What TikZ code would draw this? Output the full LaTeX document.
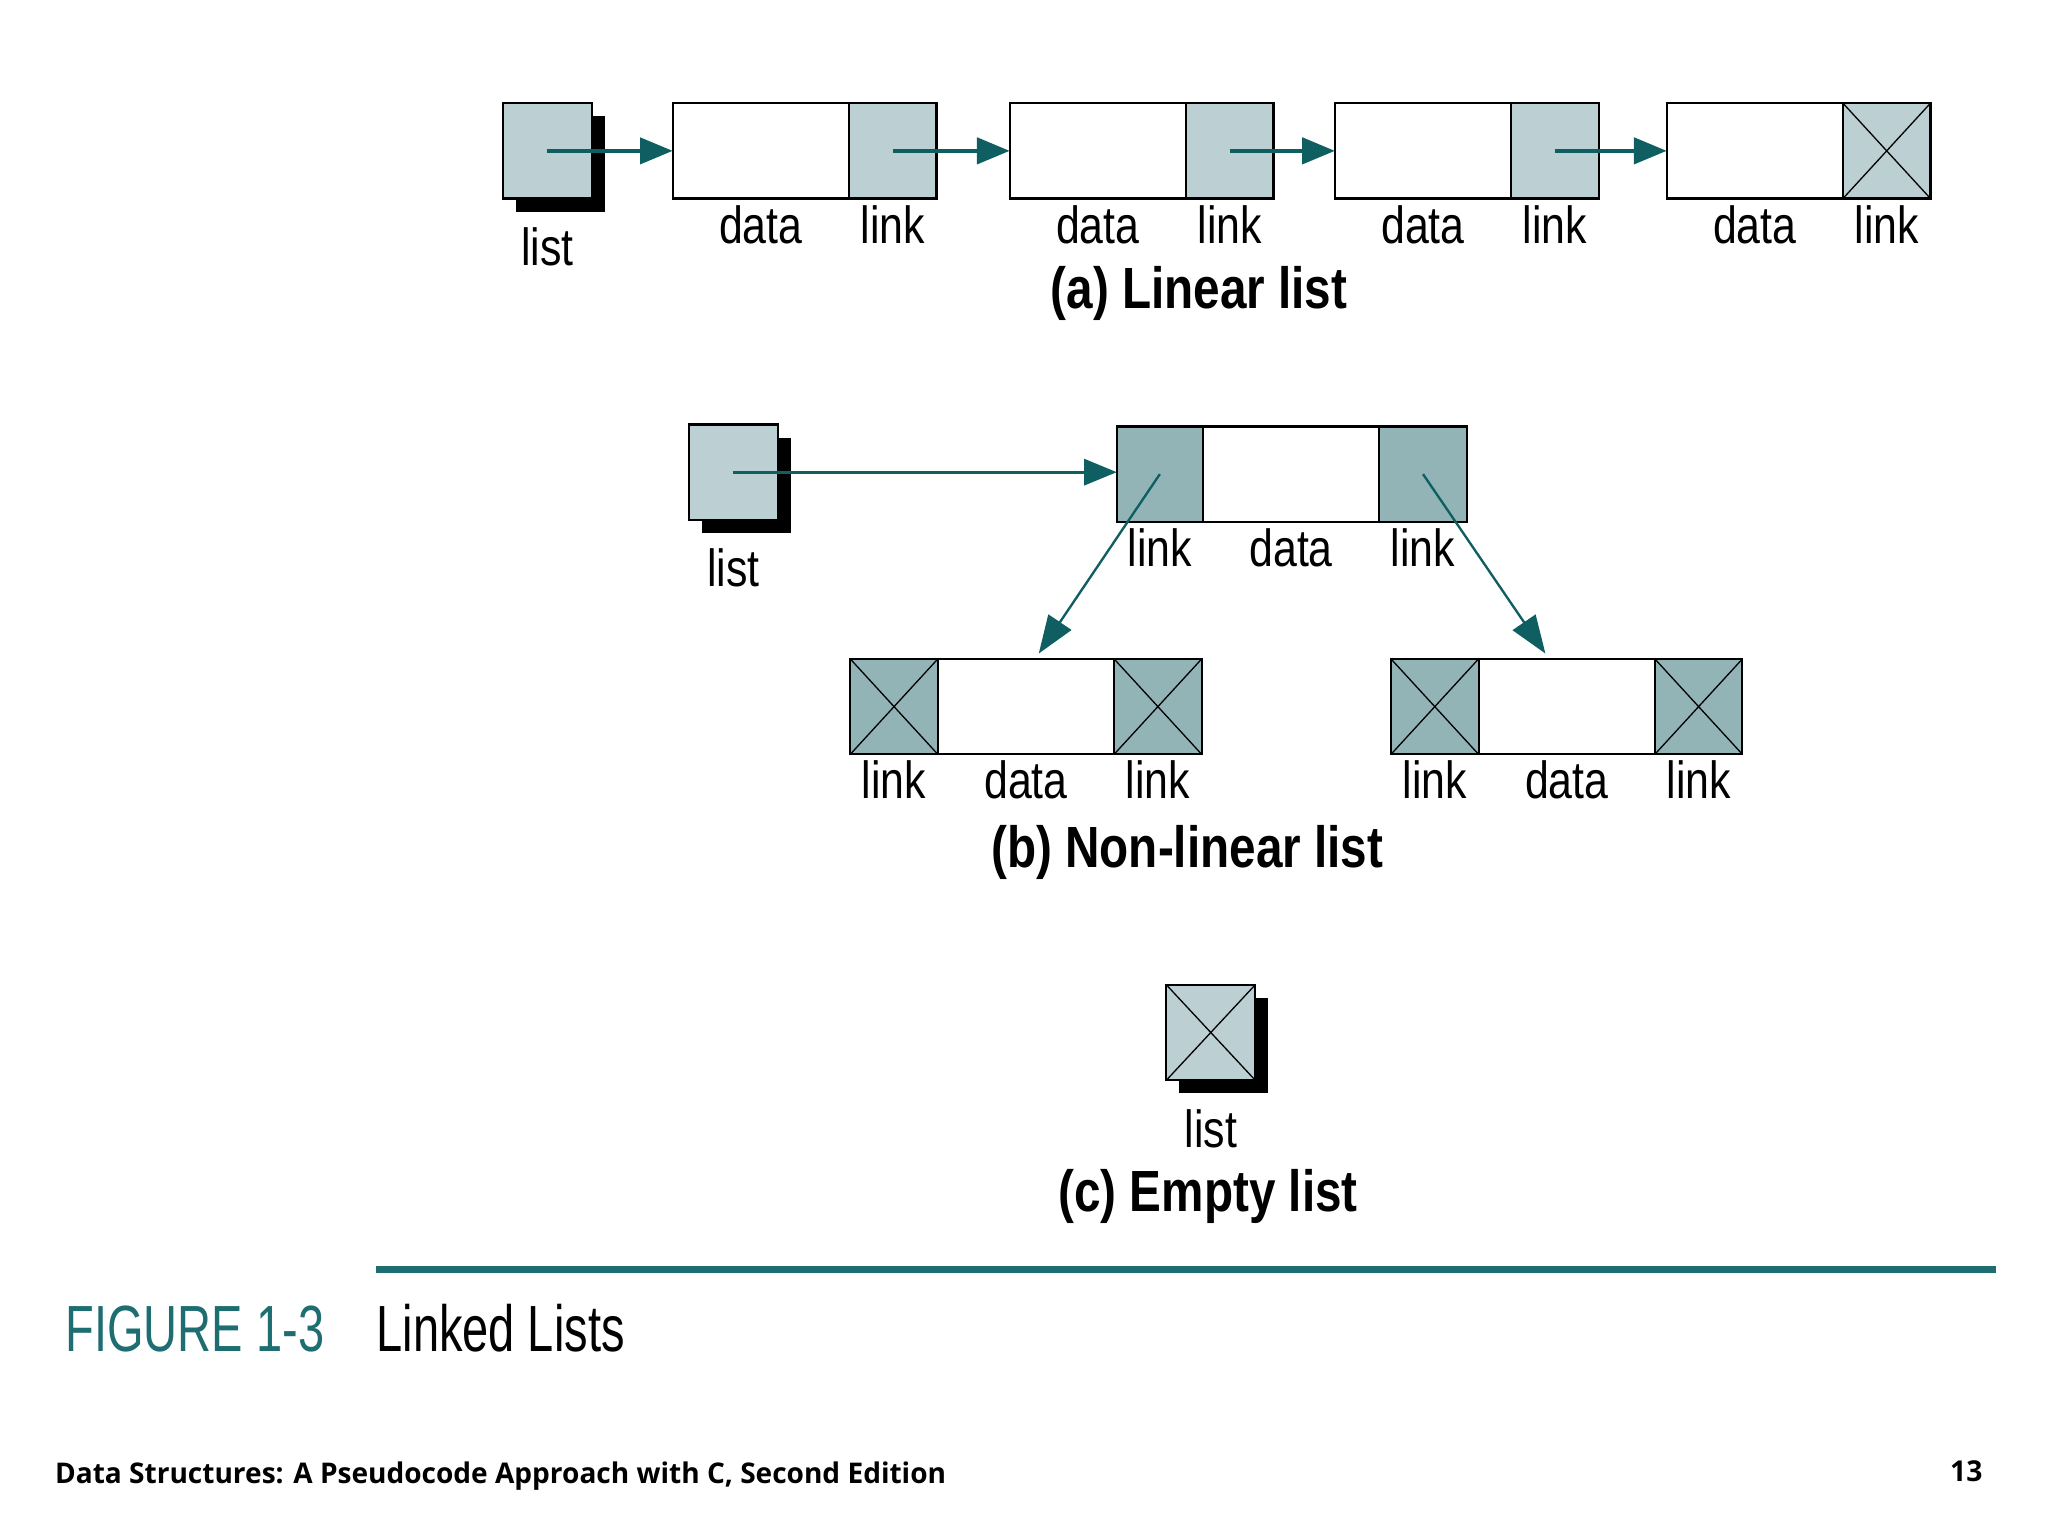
\documentclass[tikz,border=0pt]{standalone}
\usepackage{fontspec}
\usepackage{xcolor}
\usetikzlibrary{positioning, arrows.meta, shadows}

\newfontfamily\cellfont[FakeStretch=0.82]{Liberation Sans}
\newfontfamily\capfont[FakeStretch=0.72]{Liberation Sans}
\newfontfamily\slidefont[FakeStretch=0.985]{Open Sans}

\definecolor{linklight}{HTML}{BCCFD3}
\definecolor{linkdark}{HTML}{93B4B7}
\definecolor{ptrteal}{HTML}{0F5E62}
\definecolor{figteal}{HTML}{1E6E71}

\begin{document}
\begin{tikzpicture}[x=1pt, y=-1pt,
  cell/.style={rectangle, draw=black, line width=1.6pt, inner sep=0pt, outer sep=0pt, minimum height=73pt},
  datacell/.style={cell, fill=white, minimum width=135pt},
  linkcell/.style={cell, fill=linklight, minimum width=67pt},
  darklink/.style={linkcell, fill=linkdark},
  nullmark/.style={path picture={\draw[line width=1pt]
      (path picture bounding box.north west) -- (path picture bounding box.south east)
      (path picture bounding box.north east) -- (path picture bounding box.south west);}},
  headbox/.style={linkcell, minimum width=68pt,
      drop shadow={shadow xshift=10pt, shadow yshift=-10pt, fill=black, opacity=1}},
  fieldname/.style={inner sep=0pt, font=\cellfont\fontsize{40}{44}\selectfont},
  parttitle/.style={inner sep=0pt, font=\cellfont\bfseries\fontsize{44.5}{48}\selectfont},
  ptr/.style={-{Triangle[length=25pt, width=20pt]}, draw=ptrteal, line width=3pt},
  ptrthin/.style={-{Triangle[length=29pt, width=21pt]}, draw=ptrteal, line width=1.8pt, shorten >=5pt}
]
  \useasboundingbox (0,0) rectangle (1568,1176);

  % (a) linear list
  \node[headbox] (alist) at (419,115.5) {};
  \node[fieldname, below=22pt of alist] (alistname) {list};

  \node[datacell] (a1d) at (582.5,115.5) {};
  \node[linkcell, right=0pt of a1d] (a1l) {};
  \node[datacell] (a2d) at (840.5,115.5) {};
  \node[linkcell, right=0pt of a2d] (a2l) {};
  \node[datacell] (a3d) at (1089.5,115.5) {};
  \node[linkcell, right=0pt of a3d] (a3l) {};
  \node[datacell] (a4d) at (1343.5,115.5) {};
  \node[linkcell, nullmark, right=0pt of a4d] (a4l) {};

  \node[fieldname, below=5pt of a1d] (a1dname) {data};
  \node[fieldname, below=5pt of a1l] (a1lname) {link};
  \node[fieldname, below=5pt of a2d] (a2dname) {data};
  \node[fieldname, below=5pt of a2l] (a2lname) {link};
  \node[fieldname, below=5pt of a3d] (a3dname) {data};
  \node[fieldname, below=5pt of a3l] (a3lname) {link};
  \node[fieldname, below=5pt of a4d] (a4dname) {data};
  \node[fieldname, below=5pt of a4l] (a4lname) {link};

  \draw[ptr] (alist.center) -- (a1d.west);
  \draw[ptr] (a1l.center) -- (a2d.west);
  \draw[ptr] (a2l.center) -- (a3d.west);
  \draw[ptr] (a3l.center) -- (a4d.west);

  \node[parttitle] (atitle) at (918,225) {(a) Linear list};

  % (b) non-linear list
  \node[headbox] (blist) at (561.5,361.5) {};
  \node[fieldname, below=22pt of blist] (blistname) {list};

  \node[darklink, minimum width=66pt] (bl) at (888,363) {};
  \node[datacell, right=0pt of bl] (bd) {};
  \node[darklink, right=0pt of bd] (br) {};

  \node[darklink, nullmark] (bll) at (684.5,541) {};
  \node[datacell, right=0pt of bll] (bld) {};
  \node[darklink, nullmark, right=0pt of bld] (blr) {};

  \node[darklink, nullmark] (brl) at (1098.5,541) {};
  \node[datacell, right=0pt of brl] (brd) {};
  \node[darklink, nullmark, right=0pt of brd] (brr) {};

  \node[fieldname, below=5pt of bl] (blname) {link};
  \node[fieldname, below=5pt of bd] (bdname) {data};
  \node[fieldname, below=5pt of br] (brname) {link};
  \node[fieldname, below=5pt of bll] (bllname) {link};
  \node[fieldname, below=5pt of bld] (bldname) {data};
  \node[fieldname, below=5pt of blr] (blrname) {link};
  \node[fieldname, below=5pt of brl] (brlname) {link};
  \node[fieldname, below=5pt of brd] (brdname) {data};
  \node[fieldname, below=5pt of brr] (brrname) {link};

  \draw[ptr, line width=2.2pt] (blist.center) -- (blist.center -| bl.west);
  \draw[ptrthin] (bl.center) -- ([xshift=7pt]bld.north);
  \draw[ptrthin] (br.center) -- ([xshift=-13.5pt]brd.north);

  \node[parttitle] (btitle) at (909,653) {(b) Non-linear list};

  % (c) empty list
  \node[headbox, nullmark] (clist) at (927,790.5) {};
  \node[fieldname, below=22pt of clist] (clistname) {list};

  \node[parttitle] (ctitle) at (925,916) {(c) Empty list};

  % caption and footer
  \draw[figteal, line width=5pt] (288,972) -- (1528,972);
  \node[anchor=base west, inner sep=0pt, text=figteal, font=\capfont\fontsize{50}{54}\selectfont] (figno) at (50,1035) {FIGURE 1-3};
  \node[anchor=base west, inner sep=0pt, font=\capfont\fontsize{50}{54}\selectfont] (figname) at (288,1035) {Linked Lists};
  \node[anchor=base west, inner sep=0pt, font=\slidefont\bfseries\fontsize{21.8}{26}\selectfont] (booktitle) at (42,1136) {Data Structures: A Pseudocode Approach with C, Second Edition};
  \node[anchor=base east, inner sep=0pt, font=\slidefont\bfseries\fontsize{22}{26}\selectfont] (pageno) at (1518,1134) {13};
\end{tikzpicture}
\end{document}
